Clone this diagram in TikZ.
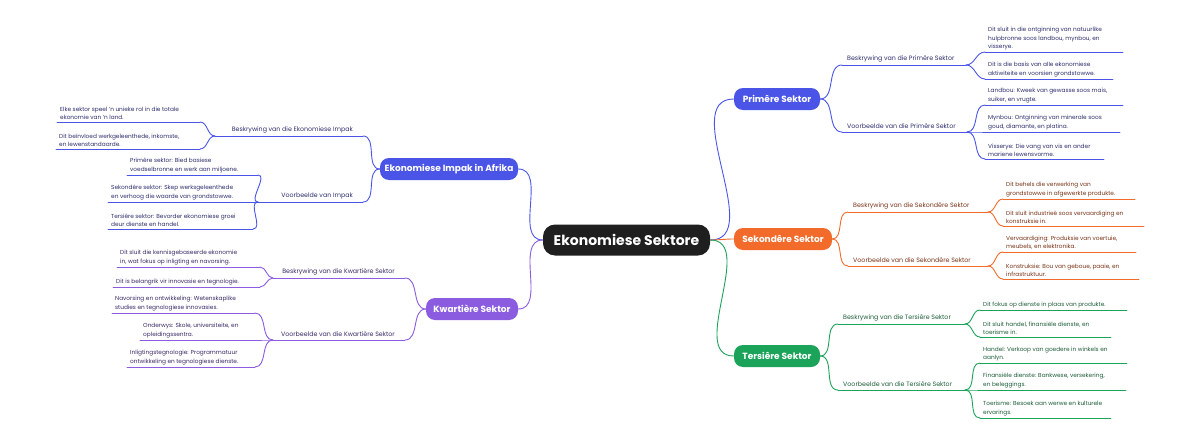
\documentclass[tikz,border=0pt]{standalone}
\usepackage{fontspec}
\setmainfont{Poppins}
\definecolor{cb}{HTML}{4A55E8}\definecolor{tb}{HTML}{2E2E6E}
\definecolor{co}{HTML}{F26B2A}\definecolor{to}{HTML}{7A3418}
\definecolor{cg}{HTML}{1BA35A}\definecolor{tg}{HTML}{1D5E3A}
\definecolor{cp}{HTML}{8B5CE0}\definecolor{tp}{HTML}{3B2A66}
\tikzset{
 br/.style={line width=0.9pt,line cap=round},
 leaf/.style={font=\fontsize{5.8}{8.3}\selectfont,align=left,inner sep=0pt},
 sub/.style={font=\fontsize{6.3}{8}\selectfont,inner sep=0pt},
 main/.style={rounded corners=9pt,minimum height=22pt,text=white,font=\fontsize{9}{10}\bfseries,inner sep=0pt},
}
% name, x1, x2, y, linecolor, textcolor, text
\newcommand\myleaf[7]{%
 \coordinate (#1a) at (#2,#4); \coordinate (#1b) at (#3,#4);
 \draw[br,#5] (#1a) -- (#1b);
 \node[leaf,text=#6,anchor=south west] (#1) at (#2+3,#4-2) {#7};}
\newcommand\rsub[7]{%
 \coordinate (#1a) at (#2,#4); \coordinate (#1b) at (#3,#4);
 \draw[br,#5] (#1a) -- (#1b);
 \node[sub,text=#6,anchor=south west] (#1) at (#2+5,#4-3) {#7};}
\newcommand\lsub[7]{%
 \coordinate (#1a) at (#2,#4); \coordinate (#1b) at (#3,#4);
 \draw[br,#5] (#1a) -- (#1b);
 \node[sub,text=#6,anchor=south east] (#1) at (#3-10,#4-3) {#7};}
\begin{document}
\begin{tikzpicture}[x=1pt,y=-1pt]
\useasboundingbox[fill=white] (0,0) rectangle (1200,439);
\node[main,fill=black!88,minimum width=167pt,minimum height=31pt,rounded corners=12pt,font=\fontsize{14}{16}\bfseries] (c) at (626.5,240) {Ekonomiese Sektore};
\node[main,fill=cb,minimum width=86pt] (p) at (777,99) {Primêre Sektor};
\node[main,fill=co,minimum width=98pt] (s) at (783,239) {Sekondêre Sektor};
\node[main,fill=cg,minimum width=86pt] (t) at (777,356) {Tersiêre Sektor};
\node[main,fill=cb,minimum width=138pt] (i) at (449,169) {Ekonomiese Impak in Afrika};
\node[main,fill=cp,minimum width=92pt] (k) at (472,309) {Kwartière Sektor};
\draw[br,cb] (c.east) to[out=0,in=180] (p.west);
\draw[br,co] (c.east) to[out=0,in=180] (s.west);
\draw[br,cg] (c.east) to[out=0,in=180] (t.west);
\draw[br,cb] (c.west) to[out=180,in=0] (i.east);
\draw[br,cp] (c.west) to[out=180,in=0] (k.east);
% Primere
\rsub{pb}{842}{966}{65}{cb}{tb}{Beskrywing van die Primêre Sektor}
\rsub{pv}{842}{967}{132}{cb}{tb}{Voorbeelde van die Primêre Sektor}
\draw[br,cb] (p.east) to[out=0,in=180] (pba);
\draw[br,cb] (p.east) to[out=0,in=180] (pva);
\myleaf{pb1}{985}{1123}{52}{cb}{tb}{Dit sluit in die ontginning van natuurlike\\hulpbronne soos landbou, mynbou, en\\visserye.}
\myleaf{pb2}{985}{1113}{79}{cb}{tb}{Dit is die basis van alle ekonomiese\\aktiwiteite en voorsien grondstowwe.}
\myleaf{pv1}{985}{1123}{105}{cb}{tb}{Landbou: Kweek van gewasse soos mais,\\suiker, en vrugte.}
\myleaf{pv2}{985}{1120}{132}{cb}{tb}{Mynbou: Ontginning van minerale soos\\goud, diamante, en platina.}
\myleaf{pv3}{985}{1104}{159}{cb}{tb}{Visserye: Die vang van vis en ander\\mariene lewensvorme.}
\foreach \a in {pb1,pb2} \draw[br,cb] (pbb) to[out=0,in=180] (\a a);
\foreach \a in {pv1,pv2,pv3} \draw[br,cb] (pvb) to[out=0,in=180] (\a a);
% Sekondere
\rsub{sb}{848}{988}{212}{co}{to}{Beskrywing van die Sekondêre Sektor}
\rsub{sv}{848}{988}{266}{co}{to}{Voorbeelde van die Sekondêre Sektor}
\draw[br,co] (s.east) to[out=0,in=180] (sba);
\draw[br,co] (s.east) to[out=0,in=180] (sva);
\myleaf{sb1}{1003}{1135}{199}{co}{to}{Dit behels die verwerking van\\grondstowwe in afgewerkte produkte.}
\myleaf{sb2}{1003}{1144}{226}{co}{to}{Dit sluit industrieë soos vervaardiging en\\konstruksie in.}
\myleaf{sv1}{1003}{1136}{252}{co}{to}{Vervaardiging: Produksie van voertuie,\\meubels, en elektronika.}
\myleaf{sv2}{1003}{1139}{279}{co}{to}{Konstruksie: Bou van geboue, paaie, en\\infrastruktuur.}
\foreach \a in {sb1,sb2} \draw[br,co] (sbb) to[out=0,in=180] (\a a);
\foreach \a in {sv1,sv2} \draw[br,co] (svb) to[out=0,in=180] (\a a);
% Tersiere
\rsub{tb}{838}{965}{324}{cg}{tg}{Beskrywing van die Tersiêre Sektor}
\rsub{tv}{838}{965}{390}{cg}{tg}{Voorbeelde van die Tersiêre Sektor}
\draw[br,cg] (t.east) to[out=0,in=180] (tba);
\draw[br,cg] (t.east) to[out=0,in=180] (tva);
\myleaf{tb1}{980}{1127}{310}{cg}{tg}{Dit fokus op dienste in plaas van produkte.}
\myleaf{tb2}{980}{1111}{337}{cg}{tg}{Dit sluit handel, finansiële dienste, en\\toerisme in.}
\myleaf{tv1}{980}{1127}{363}{cg}{tg}{Handel: Verkoop van goedere in winkels en\\aanlyn.}
\myleaf{tv2}{980}{1126}{390}{cg}{tg}{Finansiële dienste: Bankwese, versekering,\\en beleggings.}
\myleaf{tv3}{980}{1111}{418}{cg}{tg}{Toerisme: Besoek aan werwe en kulturele\\ervarings.}
\foreach \a in {tb1,tb2} \draw[br,cg] (tbb) to[out=0,in=180] (\a a);
\foreach \a in {tv1,tv2,tv3} \draw[br,cg] (tvb) to[out=0,in=180] (\a a);
% Impak
\lsub{ib}{215}{363}{136}{cb}{tb}{Beskrywing van die Ekonomiese Impak}
\lsub{iv}{258}{363}{202}{cb}{tb}{Voorbeelde van Impak}
\draw[br,cb] (i.west) to[out=180,in=0] (ibb);
\draw[br,cb] (i.west) to[out=180,in=0] (ivb);
\myleaf{ib1}{57}{200}{122}{cb}{tb}{Elke sektor speel 'n unieke rol in die totale\\ekonomie van 'n land.}
\myleaf{ib2}{56}{200}{149}{cb}{tb}{Dit beïnvloed werkgeleenthede, inkomste,\\en lewenstandaarde.}
\myleaf{iv1}{127}{258}{175}{cb}{tb}{Primêre sektor: Bied basiese\\voedselbronne en werk aan miljoene.}
\myleaf{iv2}{108}{258}{202}{cb}{tb}{Sekondêre sektor: Skep werksgeleenthede\\en verhoog die waarde van grondstowwe.}
\myleaf{iv3}{108}{253}{229}{cb}{tb}{Tersiêre sektor: Bevorder ekonomiese groei\\deur dienste en handel.}
\foreach \a in {ib1,ib2} \draw[br,cb] (iba) to[out=180,in=0] (\a b);
\foreach \a in {iv1,iv2,iv3} \draw[br,cb] (iva) to[out=180,in=0] (\a b);
% Kwartiere
\lsub{kb}{273}{405}{278}{cp}{tp}{Beskrywing van die Kwartière Sektor}
\lsub{kv}{273}{405}{340}{cp}{tp}{Voorbeelde van die Kwartière Sektor}
\draw[br,cp] (k.west) to[out=180,in=0] (kbb);
\draw[br,cp] (k.west) to[out=180,in=0] (kvb);
\myleaf{kb1}{117}{260}{267}{cp}{tp}{Dit sluit die kennisgebaseerde ekonomie\\in, wat fokus op inligting en navorsing.}
\myleaf{kb2}{113}{260}{287}{cp}{tp}{Dit is belangrik vir innovasie en tegnologie.}
\myleaf{kv1}{112}{255}{313}{cp}{tp}{Navorsing en ontwikkeling: Wetenskaplike\\studies en tegnologiese innovasies.}
\myleaf{kv2}{140}{260}{340}{cp}{tp}{Onderwys: Skole, universiteite, en\\opleidingssentra.}
\myleaf{kv3}{127}{255}{367}{cp}{tp}{Inligtingstegnologie: Programmatuur\\ontwikkeling en tegnologiese dienste.}
\foreach \a in {kb1,kb2} \draw[br,cp] (kba) to[out=180,in=0] (\a b);
\foreach \a in {kv1,kv2,kv3} \draw[br,cp] (kva) to[out=180,in=0] (\a b);
\end{tikzpicture}
\end{document}
